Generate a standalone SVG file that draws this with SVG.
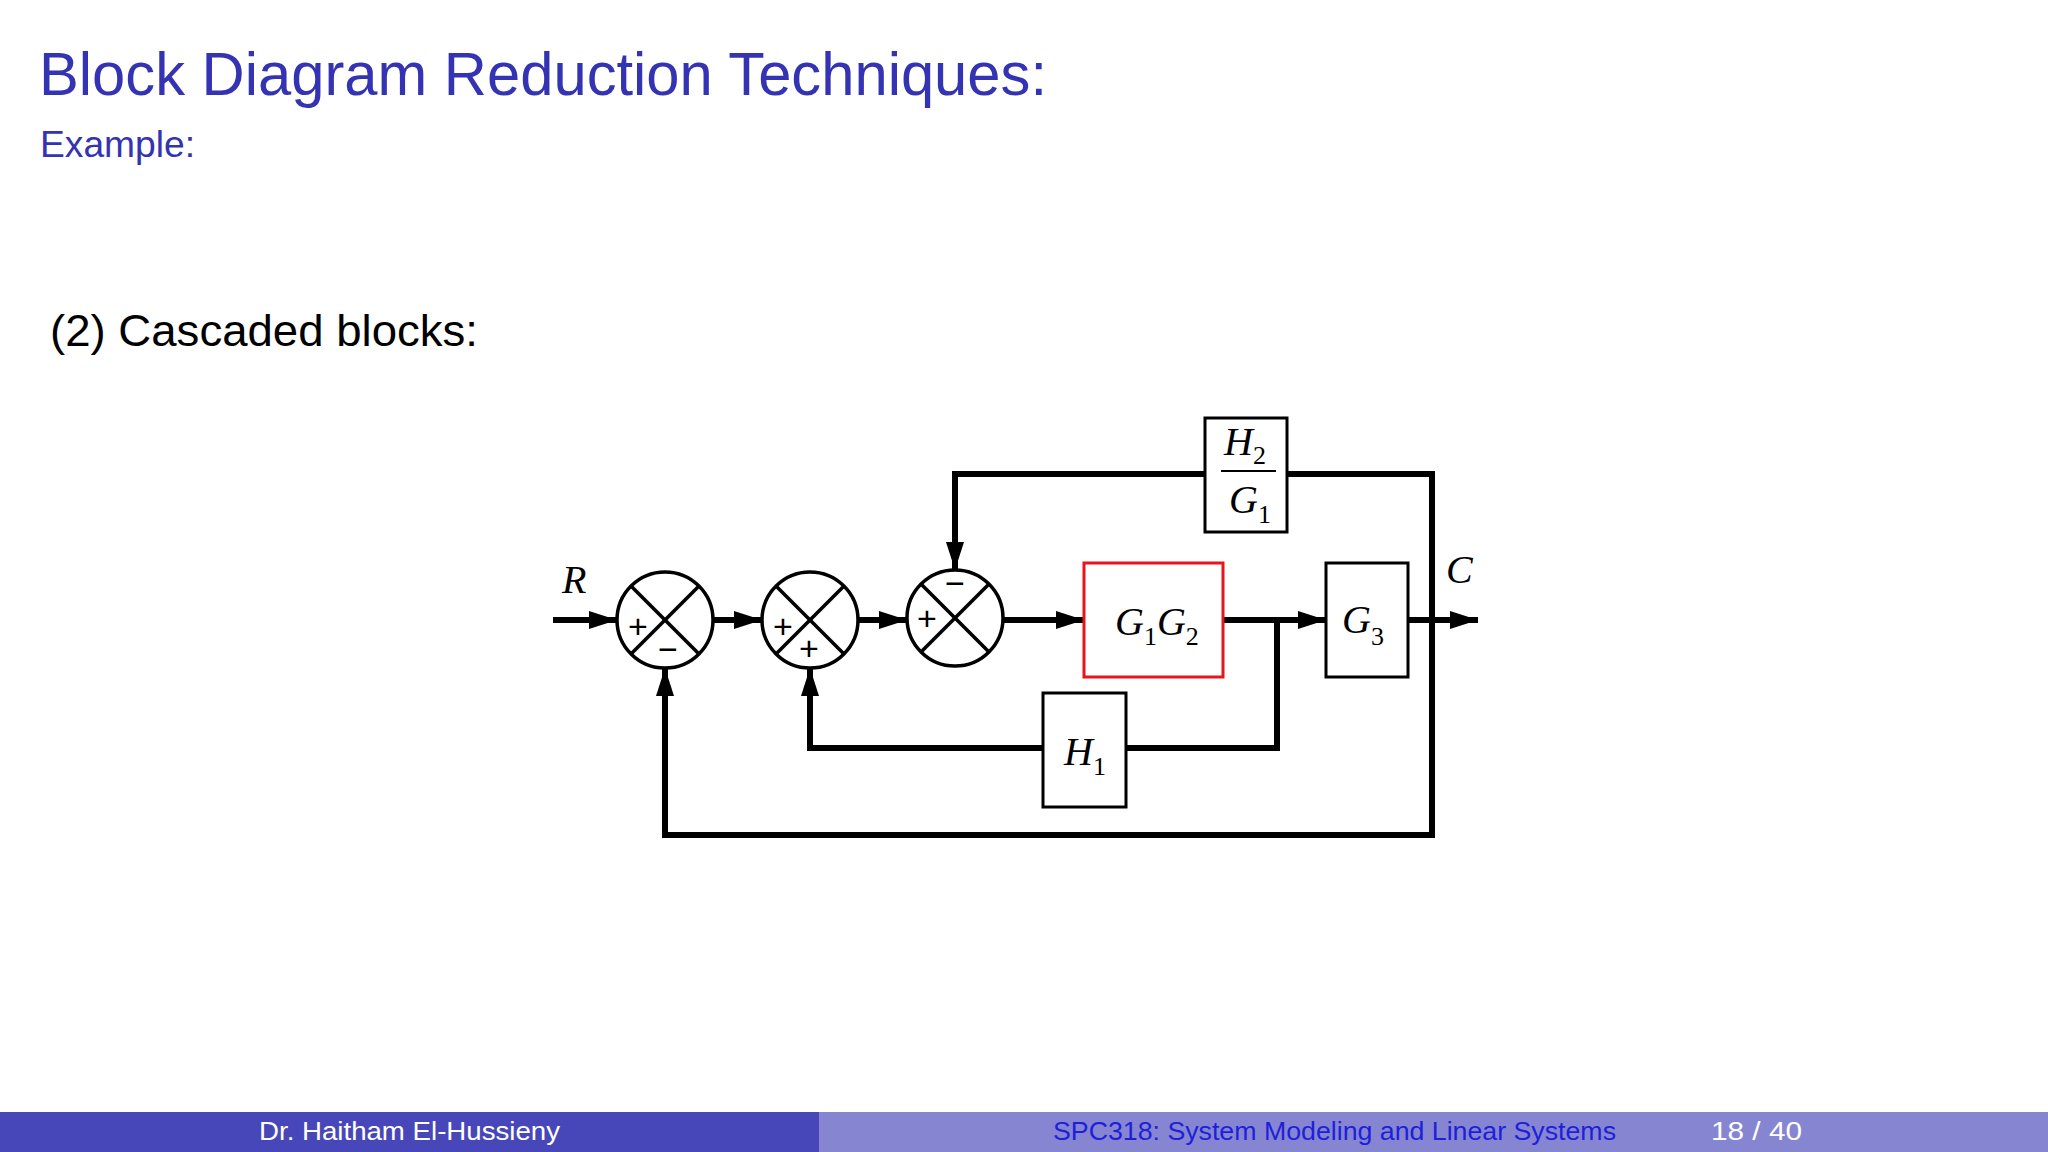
<svg xmlns="http://www.w3.org/2000/svg" width="2048" height="1152" viewBox="0 0 2048 1152">
<defs>
<marker id="arr" markerUnits="userSpaceOnUse" markerWidth="30" markerHeight="20" refX="28" refY="9" orient="auto">
<path d="M0,0 L28,9 L0,18 Z" fill="#000"/>
</marker>
<style>
.title{font-family:"Liberation Sans",Arial,sans-serif;fill:#3333B3}
.body{font-family:"Liberation Sans",Arial,sans-serif;fill:#000}
.wire{fill:none;stroke:#000;stroke-width:6;stroke-linecap:square;stroke-linejoin:miter}
.arrow{fill:none;stroke:#000;stroke-width:6;marker-end:url(#arr)}
.sum circle{fill:#fff;stroke:#000;stroke-width:3.5}
.sum line{stroke:#000;stroke-width:3.5}
.sign{font-family:"Liberation Sans",Arial,sans-serif;font-size:34px;fill:#000;text-anchor:middle}
.blk{fill:#fff;stroke:#000;stroke-width:3}
.lbl{font-family:"Liberation Serif","Times New Roman",serif;font-style:italic;font-size:40px;fill:#000}
.sub{font-family:"Liberation Serif","Times New Roman",serif;font-style:normal;font-size:26px}
.foot{font-family:"Liberation Sans",Arial,sans-serif;font-size:25px}
</style>
</defs>
<rect width="2048" height="1152" fill="#fff"/>
<text class="title" x="39" y="95" font-size="62" textLength="1008" lengthAdjust="spacingAndGlyphs">Block Diagram Reduction Techniques:</text>
<text class="title" x="40" y="157" font-size="36" textLength="155" lengthAdjust="spacingAndGlyphs">Example:</text>
<text class="body" x="50" y="346" font-size="44" textLength="428" lengthAdjust="spacingAndGlyphs">(2) Cascaded blocks:</text>

<g id="connectors">
<path class="arrow" d="M553,620 H617"/>
<path class="arrow" d="M713,620 H762"/>
<path class="arrow" d="M858,620 H907"/>
<path class="arrow" d="M1003,620 H1084"/>
<path class="arrow" d="M1223,620 H1326"/>
<path class="arrow" d="M1408,620 H1478"/>
<path class="wire" d="M1277,620 V748 H1126"/>
<path class="arrow" d="M1043,748 H810 V668"/>
<path class="wire" d="M1287,474 H1432 V835"/>
<path class="arrow" d="M1205,474 H955 V570"/>
<path class="arrow" d="M1432,835 H665 V668"/>
</g>

<g id="R-label"><text class="lbl" x="562" y="593" font-size="38">R</text></g>
<g id="C-label"><text class="lbl" x="1446" y="583" font-size="38">C</text></g>

<g id="sum1" class="sum">
<circle cx="665" cy="620" r="48"/>
<line x1="631" y1="586" x2="699" y2="654"/><line x1="699" y1="586" x2="631" y2="654"/>
<text class="sign" x="638" y="638">+</text>
<text class="sign" x="668" y="661">−</text>
</g>
<g id="sum2" class="sum">
<circle cx="810" cy="620" r="48"/>
<line x1="776" y1="586" x2="844" y2="654"/><line x1="844" y1="586" x2="776" y2="654"/>
<text class="sign" x="783" y="638">+</text>
<text class="sign" x="809" y="660">+</text>
</g>
<g id="sum3" class="sum">
<circle cx="955" cy="618" r="48"/>
<line x1="921" y1="584" x2="989" y2="652"/><line x1="989" y1="584" x2="921" y2="652"/>
<text class="sign" x="955" y="595">−</text>
<text class="sign" x="927" y="630">+</text>
</g>

<g id="G1G2">
<rect x="1084" y="563" width="139" height="114" fill="#fff" stroke="#e8141c" stroke-width="3"/>
<text class="lbl" x="1115" y="635">G<tspan class="sub" dy="10">1</tspan><tspan dy="-10">G</tspan><tspan class="sub" dy="10">2</tspan></text>
</g>
<g id="G3">
<rect class="blk" x="1326" y="563" width="82" height="114"/>
<text class="lbl" x="1342" y="633">G<tspan class="sub" dy="12">3</tspan></text>
</g>
<g id="H1">
<rect class="blk" x="1043" y="693" width="83" height="114"/>
<text class="lbl" x="1064" y="765">H<tspan class="sub" dy="10">1</tspan></text>
</g>
<g id="H2G1">
<rect class="blk" x="1205" y="418" width="82" height="114"/>
<text class="lbl" x="1224" y="455" font-size="38">H<tspan class="sub" dy="9">2</tspan></text>
<line x1="1221" y1="471" x2="1276" y2="471" stroke="#000" stroke-width="2"/>
<text class="lbl" x="1229" y="513" font-size="38">G<tspan class="sub" dy="10">1</tspan></text>
</g>

<g id="footer">
<rect x="0" y="1112" width="819" height="40" fill="#4747B9"/>
<rect x="819" y="1112" width="1229" height="40" fill="#8585D2"/>
<text class="foot" x="259" y="1140" fill="#fff" textLength="301" lengthAdjust="spacingAndGlyphs">Dr. Haitham El-Hussieny</text>
<text class="foot" x="1053" y="1140" fill="#1F1FD9" textLength="563" lengthAdjust="spacingAndGlyphs">SPC318: System Modeling and Linear Systems</text>
<text class="foot" x="1711" y="1140" fill="#fff" textLength="91" lengthAdjust="spacingAndGlyphs">18 / 40</text>
</g>
</svg>
